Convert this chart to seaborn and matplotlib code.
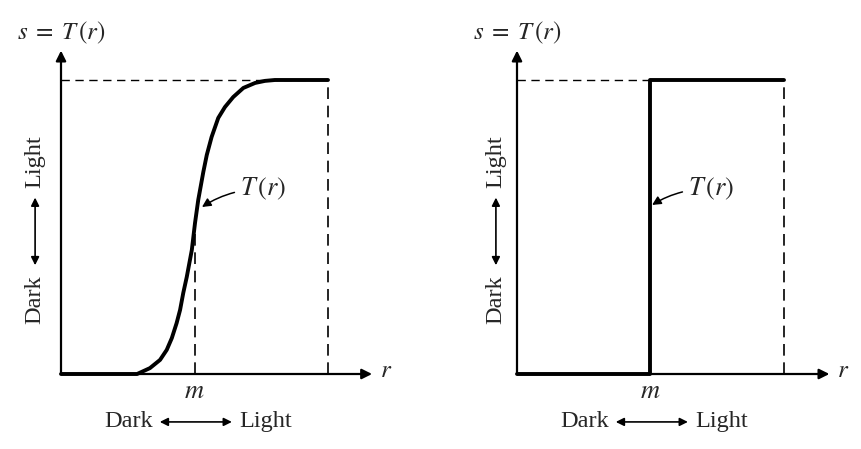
import numpy as np
import seaborn as sns
import matplotlib.pyplot as plt

# contrast stretching curve
r_curve = [0.0, 0.285, 0.333, 0.371, 0.396, 0.415, 0.433, 0.446, 0.458, 0.471, 0.490,
           0.502, 0.514, 0.533, 0.546, 0.564, 0.589, 0.614, 0.645, 0.683, 0.727, 0.764,
           0.801, 1.0]
s_curve = [0.0, 0.0, 0.020, 0.048, 0.082, 0.122, 0.173, 0.218, 0.276, 0.330, 0.422,
           0.514, 0.592, 0.687, 0.745, 0.806, 0.871, 0.908, 0.942, 0.973, 0.990, 0.997,
           1.0, 1.0]

# thresholding function, right panel
r_step = [0.0, 0.5, 0.5, 1.0]
s_step = [0.0, 0.0, 1.0, 1.0]

m = 0.5
r_end = 1.0
s_max = 1.0
s_at_m = 0.514

sns.set_style("white")
plt.rcParams['font.family'] = ['Liberation Serif', 'DejaVu Serif']
plt.rcParams['mathtext.fontset'] = 'stix'

W, H = 862, 449
fig = plt.figure(figsize=(W / 100, H / 100), dpi=100)

XL = (-0.2, 1.25)
YL = (-0.25, 1.22)
UX, UY = 267, 294


def make_ax(ox, oy):
    left = ox + XL[0] * UX
    bottom = H - (oy - YL[0] * UY)
    ax = fig.add_axes([left / W, bottom / H, (XL[1] - XL[0]) * UX / W, (YL[1] - YL[0]) * UY / H])
    ax.set_xlim(*XL)
    ax.set_ylim(*YL)
    ax.axis('off')
    return ax


def frame(ax, xtip, vx):
    k = dict(arrowstyle='-|>', lw=1.6, color='black', mutation_scale=15, shrinkA=0, shrinkB=0)
    ax.annotate('', xy=(0, 1.10), xytext=(0, 0), arrowprops=k, annotation_clip=False)
    ax.annotate('', xy=(xtip, 0), xytext=(0, 0), arrowprops=k, annotation_clip=False)
    ax.text(xtip + 0.03, 0.01, '$r$', fontsize=18, va='center', ha='left')
    ax.text(0.0, 1.16, '$s\\;=\\;T\\,(r)$', fontsize=18, va='center', ha='center')
    ax.text(m, -0.06, '$m$', fontsize=19, va='center', ha='center')
    # dark/light labels along the x axis
    ax.text(0.345, -0.163, 'Dark', fontsize=17.5, va='center', ha='right')
    ax.text(0.668, -0.163, 'Light', fontsize=17.5, va='center', ha='left')
    dk = dict(arrowstyle='<|-|>', lw=1.2, color='black', mutation_scale=12, shrinkA=0, shrinkB=0)
    ax.annotate('', xy=(0.37, -0.163), xytext=(0.64, -0.163), arrowprops=dk, annotation_clip=False)
    # dark/light labels along the y axis
    ax.text(vx, 0.337, 'Dark', fontsize=17.5, va='top', ha='center', rotation=90)
    ax.text(vx, 0.632, 'Light', fontsize=17.5, va='bottom', ha='center', rotation=90)
    ax.annotate('', xy=(vx, 0.37), xytext=(vx, 0.60), arrowprops=dk, annotation_clip=False)
    # dashed guide at the end of the range
    ax.plot([r_end, r_end], [0, s_max], color='black', lw=1.2, ls=(0, (7, 4)))


ax1 = make_ax(61, 374)
frame(ax1, 1.165, -0.097)
ax1.plot([0, r_end], [s_max, s_max], color='black', lw=1.0, ls=(0, (6, 4)))
ax1.plot([m, m], [0, s_at_m], color='black', lw=1.2, ls=(0, (7, 4)))
sns.lineplot(x=r_curve, y=s_curve, ax=ax1, color='black', lw=2.8, sort=False, estimator=None)
ax1.annotate('$T\\,(r)$', xy=(0.528, 0.568), xytext=(0.672, 0.63), fontsize=19, va='center', ha='left',
             arrowprops=dict(arrowstyle='-|>', lw=1.1, color='black', mutation_scale=13,
                             shrinkA=2, shrinkB=0, connectionstyle='arc3,rad=0.15'))

ax2 = make_ax(517, 374)
frame(ax2, 1.17, -0.079)
ax2.plot([0, m], [s_max, s_max], color='black', lw=1.0, ls=(0, (6, 4)))
sns.lineplot(x=r_step, y=s_step, ax=ax2, color='black', lw=2.8, sort=False, estimator=None)
ax2.annotate('$T\\,(r)$', xy=(0.506, 0.575), xytext=(0.642, 0.63), fontsize=19, va='center', ha='left',
             arrowprops=dict(arrowstyle='-|>', lw=1.1, color='black', mutation_scale=13,
                             shrinkA=2, shrinkB=0, connectionstyle='arc3,rad=0.15'))

fig.savefig('out.png', dpi=100, facecolor='white')
